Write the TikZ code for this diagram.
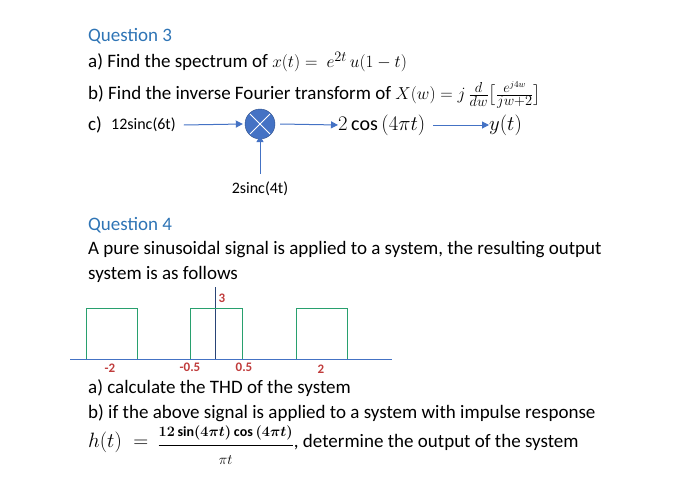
\documentclass[tikz,border=0pt]{standalone}
\usepackage{fontspec}
\usepackage{amsmath}
\setmainfont{Carlito}
\usetikzlibrary{arrows.meta,calc}
\definecolor{qblue}{RGB}{46,116,181}
\definecolor{lblue}{RGB}{68,114,196}
\definecolor{pgreen}{RGB}{40,160,110}
\definecolor{lred}{RGB}{192,60,60}
\begin{document}
\begin{tikzpicture}[x=1pt,y=-1pt,
  txt/.style={anchor=west,inner sep=0pt,font=\fontsize{19}{22}\selectfont},
  arr/.style={-{Triangle[length=7pt,width=7pt]},lblue,line width=1pt},
  lab/.style={font=\bfseries\fontsize{13}{15}\selectfont,lred,inner sep=0pt}]
\useasboundingbox (0,0) rectangle (700,492);
\node[txt,qblue] (q3) at (88,36) {Question 3};
\node[txt] (qa) at (88,62) {a) Find the spectrum of $x(t)=\ e^{2t}\,u(1-t)$};
\node[txt] (qb) at (88,95) {b) Find the inverse Fourier transform of $X(w)=j\,\frac{d}{dw}\big[\frac{e^{j4w}}{jw+2}\big]$};
\node[txt] (qc) at (88,125) {c)};
\node[txt,font=\fontsize{16}{19}\selectfont] (s1) at (111,125) {12sinc(6t)};
\node[circle,fill=lblue,draw=lblue!70!black,minimum size=30pt,inner sep=0pt] (m) at (260,124) {};
\draw[white,line width=1pt] ($(m)+(-10,-10)$) -- ($(m)+(10,10)$) ($(m)+(10,-10)$) -- ($(m)+(-10,10)$);
\node[txt,font=\fontsize{20}{22}\selectfont] (c2) at (338,125) {$2\cos\,(4\pi t)$};
\node[txt,font=\fontsize{21}{22}\selectfont] (yt) at (489,125) {$y(t)$};
\node[inner sep=0pt,font=\fontsize{16}{19}\selectfont] (s2) at (260,189) {2sinc(4t)};
\draw[arr] ($(s1.east)+(8,0)$) -- ($(m.west)+(-2,0)$);
\draw[arr] ($(m.east)+(5,0)$) -- (c2.west);
\draw[arr] ($(c2.east)+(8,0)$) -- (yt.west);
\draw[arr] ($(s2.north)+(0,-8)$) -- ($(m.south)+(0,-4)$);
\node[txt,qblue] (q4) at (88,225) {Question 4};
\node[txt] (l1) at (88,250) {A pure sinusoidal signal is applied to a system, the resulting output};
\node[txt] (l2) at (88,274) {system is as follows};
\draw[lblue,line width=1pt] (70,359) -- (392,359);
\draw[lblue!60!black,line width=0.8pt] (215,287) -- (215,359);
\draw[pgreen,line width=1pt] (86,359) -- (86,308) -- (137,308) -- (137,359)
  (190,359) -- (190,308) -- (242,308) -- (242,359)
  (296,359) -- (296,308) -- (347,308) -- (347,359);
\node[lab] (t3) at (222,298) {3};
\node[lab] (x1) at (110,368) {-2};
\node[lab] (x2) at (190,367) {-0.5};
\node[lab] (x3) at (244,367) {0.5};
\node[lab] (x4) at (321,369) {2};
\node[txt] (l3) at (88,388) {a) calculate the THD of the system};
\node[txt] (l4) at (88,413) {b) if the above signal is applied to a system with impulse response};
\node[txt] (l5) at (88,445) {\fontsize{20}{22}\selectfont$h(t)\;=\;$\,\raisebox{-3pt}{$\dfrac{\text{\fontsize{14}{16}\selectfont\boldmath$12\sin(4\pi t)\cos\,(4\pi t)$}}{\rule{0pt}{11pt}\text{\fontsize{14}{16}\selectfont$\pi t$}}$}\fontsize{19}{22}\selectfont, determine the output of the system};
\end{tikzpicture}
\end{document}
